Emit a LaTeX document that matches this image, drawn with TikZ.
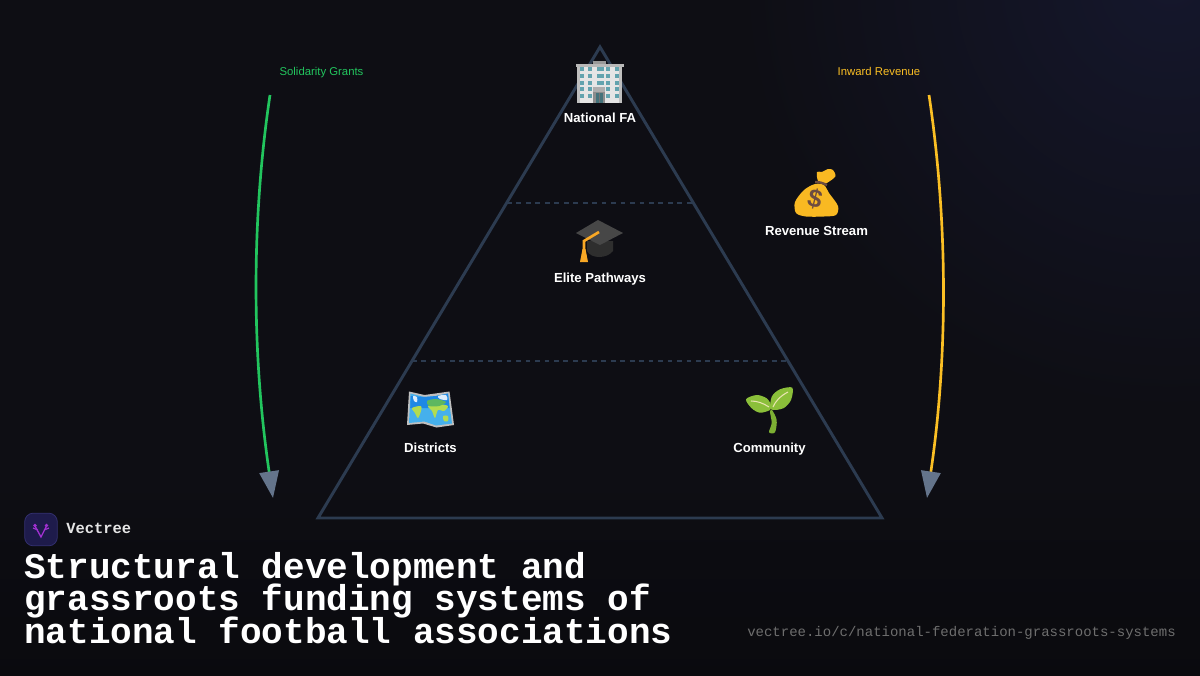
\documentclass[tikz,border=0pt]{standalone}
\usepackage{fontspec}
\setmainfont{Liberation Sans}
\setmonofont{Liberation Mono}
\usepackage{tikz}
\usetikzlibrary{arrows.meta,positioning}

\definecolor{bgdark}{HTML}{0E0E14}
\definecolor{bgblue}{HTML}{15172C}
\definecolor{bgedge}{HTML}{09090C}
\definecolor{tierline}{HTML}{2C3B50}
\definecolor{tipgrey}{HTML}{64748B}
\definecolor{grantgreen}{HTML}{22C55E}
\definecolor{revyellow}{HTML}{FBBF24}
\definecolor{urlgrey}{HTML}{6E6E6E}
\definecolor{logofill}{HTML}{1E1B4B}
\definecolor{logoedge}{HTML}{322F6E}
\definecolor{logomark}{HTML}{A030D0}
\definecolor{bagamber}{HTML}{F9B922}
\definecolor{bagbrown}{HTML}{6D4C41}
\definecolor{capgold}{HTML}{F9A825}
\definecolor{leafgreen}{HTML}{8BBF3A}
\definecolor{stemgreen}{HTML}{7CAF33}
\definecolor{leafvein}{HTML}{E8E4B0}
\definecolor{winteal}{HTML}{62A3AE}
\definecolor{seaupper}{HTML}{1E88E5}
\definecolor{sealower}{HTML}{45B0EC}
\definecolor{landlime}{HTML}{B2DC50}
\definecolor{landgreen}{HTML}{5DB760}

\tikzset{
  building/.pic={
    \fill[black!25] (-23,-16) rectangle (22,21);
    \fill[black!10] (-20,-16) rectangle (19,21);
    \fill[black!40] (-7,-21.5) rectangle (6,-18);
    \fill[black!28] (-24.5,-18.5) rectangle (23.5,-15.5);
    \foreach \wx/\ww in {-18/4.5,-10/4.5,0/7,8/4.5,17/4.5}
      \foreach \wy in {-13,-6,1,7,14}
        \fill[winteal] (\wx-\ww/2,\wy-2.1) rectangle (\wx+\ww/2,\wy+2.1);
    \fill[black!10] (-8,3.5) rectangle (6,21);
    \fill[black!45] (-7,5) rectangle (5,21);
    \fill[black!32] (-7,5) rectangle (5,10);
    \fill[winteal!70!black] (-4.5,11) rectangle (2.5,21);
    \draw[black!55,line width=0.7pt] (-1,11) -- (-1,21);
  },
  moneybag/.pic={
    \fill[bagamber] plot[smooth cycle] coordinates {(1,-24) (6,-24) (12,-27) (17,-26) (19.5,-20) (14,-15) (8,-12) (2,-15)};
    \fill[bagamber] plot[smooth cycle] coordinates {(-1,-12) (8,-11) (13,-3) (22,10) (20,19) (8,20.5) (-10,20.5) (-20,17) (-21,6) (-12,-6)};
    \draw[bagbrown,line width=1.7pt] (-1,-14) .. controls (2,-14.5) and (7,-13) .. (11,-11);
    \node[font=\bfseries\fontsize{19}{19}\selectfont,text=bagbrown,rotate=-14,inner sep=0pt] (dollar) at (-1,3) {\$};
  },
  gradcap/.pic={
    \fill[black!82] (-12,0) -- (-12,10) .. controls (-8,18) and (8,18) .. (14,10) -- (14,0) -- cycle;
    \fill[black!72] (-23,-8) -- (-1,-21) -- (24,-8) -- (1,4) -- cycle;
    \draw[capgold,line width=2pt] (0,-9) -- (-15,0) -- (-15,10);
    \fill[capgold] (-16.5,8) -- (-13.5,8) -- (-11,21) -- (-19,21) -- cycle;
  },
  worldmap/.pic={
    \fill[black!25] (-21,-17.5) -- (-5.5,-14) -- (19.5,-17.5) -- (24,16) -- (6.5,18.5) -- (-7,14.5) -- (-23,16) -- cycle;
    \fill[sealower] (-19.5,-15.5) -- (-5.5,-12) -- (6,-13) -- (18,-15.5) -- (22,14.5) -- (6,16.5) -- (-5.5,12.5) -- (-21,14) -- cycle;
    \fill[seaupper] (-19.3,-13) -- (-5.5,-12) -- (6,-13) -- (18,-15.5) -- (19.5,-1) -- (-19.8,-1) -- cycle;
    \fill[landlime] plot[smooth cycle] coordinates {(-18,-1) (-9,-3) (-9,2) (-12,9) (-15,4)};
    \fill[landlime] plot[smooth cycle] coordinates {(-2,-3) (8,-5) (18,-3) (14,2) (8,1) (5,9) (2,2)};
    \fill[landgreen] plot[smooth cycle] coordinates {(-3,-8) (6,-10) (16,-7) (9,-3) (-1,-3)};
    \fill[white!85!seaupper] plot[smooth cycle] coordinates {(-17,-13) (-13,-12) (-13,-7) (-16,-8)};
    \fill[white!85!seaupper] plot[smooth cycle] coordinates {(8,-13) (16,-14) (17,-9) (10,-10)};
    \fill[landlime] plot[smooth cycle] coordinates {(13,7) (18,7) (18,12) (14,12)};
  },
  sprout/.pic={
    \fill[stemgreen] plot[smooth cycle] coordinates {(1,1.7) (3,0) (7.7,10) (6,22.3) (0,22.3) (2.7,13)};
    \fill[leafgreen] plot[smooth cycle] coordinates {(-23,-10.7) (-12.3,-15) (-2.3,-11.7) (2,-5) (1,0) (-9,2.7) (-17.3,-1.7)};
    \fill[leafgreen] plot[smooth cycle] coordinates {(23.3,-22.3) (11,-20.7) (2.7,-13.3) (2,-0.7) (14.3,-1.7) (22,-10)};
    \draw[leafvein,line width=0.8pt] (-18,-9) .. controls (-12,-9) and (-6,-7) .. (0,-3);
    \draw[leafvein,line width=0.8pt] (19,-18) .. controls (11,-14) and (6,-8) .. (4,-3);
  }
}

\begin{document}
\begin{tikzpicture}[
  x=0.75pt,y=-0.75pt,
  iconlabel/.style={font=\bfseries\fontsize{9.85}{11}\selectfont,text=white,inner sep=0pt,anchor=base},
  flowlabel/.style={font=\fontsize{8.5}{10}\selectfont,inner sep=0pt,anchor=base},
  tierrule/.style={draw=tierline,line width=1.1pt,dash pattern=on 3.6pt off 3.5pt},
  flowarrow/.style={line width=2pt,-{Triangle[length=20pt,width=14.5pt,color=tipgrey]}}
]
\useasboundingbox (0,0) rectangle (1200,675);
\fill[bgdark] (-3,-3) rectangle (1203,678);
\begin{scope}
  \clip (0,0) rectangle (1200,675);
  \shade[inner color=bgblue,outer color=bgdark] (1170,-20) circle (430);
\end{scope}
\shade[top color=bgdark,bottom color=bgedge,draw=none,opacity=0.7] (-3,480) rectangle (1203,678);

% pyramid
\coordinate (apex) at (600,47);
\coordinate (baseleft) at (318,518);
\coordinate (baseright) at (882,518);
\draw[tierline,line width=2.2pt,line join=miter] (apex) -- (baseright) -- (baseleft) -- cycle;
\coordinate (upperleft) at (507,203);
\coordinate (upperright) at (693,203);
\coordinate (lowerleft) at (412,361);
\coordinate (lowerright) at (788,361);
\draw[tierrule] (upperleft) -- (upperright);
\draw[tierrule] (lowerleft) -- (lowerright);

% side flows
\coordinate (granttop) at (270,95);
\coordinate (grantend) at (273,498);
\coordinate (inwardtop) at (929,95);
\coordinate (inwardend) at (927,498);
\draw[flowarrow,grantgreen] (granttop) .. controls (251,222) and (252,356) .. (grantend);
\draw[flowarrow,revyellow] (inwardtop) .. controls (948,222) and (948,356) .. (inwardend);
\node[flowlabel,text=grantgreen] (grantlabel) at (321.5,75) {Solidarity Grants};
\node[flowlabel,text=revyellow] (inwardlabel) at (879,75) {Inward Revenue};

% tiers
\pic at (600,82) {building};
\node[iconlabel] (nationalfa) at (600,122) {National FA};
\pic at (816,196) {moneybag};
\node[iconlabel] (revenue) at (816.5,235) {Revenue Stream};
\pic at (599,241) {gradcap};
\node[iconlabel] (elite) at (600,282) {Elite Pathways};
\pic at (430,409) {worldmap};
\node[iconlabel] (districts) at (430.5,452) {Districts};
\pic at (769,410) {sprout};
\node[iconlabel] (community) at (769.5,452) {Community};

% brand and title
\node[draw=logoedge,fill=logofill,rounded corners=6.5pt,line width=0.6pt,
  minimum size=24.5pt,inner sep=0pt] (logo) at (41,529.5) {};
\draw[logomark,line width=1pt] (35,526) -- (41,537) -- (46.5,526);
\draw[logomark,line width=0.9pt] (33,528) -- (38,530) (49,528) -- (44,530);
\fill[logomark] (35,525.5) circle (1.8) (46.5,525.5) circle (1.8);
\node[font=\ttfamily\bfseries\fontsize{11.6}{14}\selectfont,text=black!10,inner sep=0pt,anchor=west] (brand) at (66,528.5) {Vectree};
\node[font=\ttfamily\bfseries\fontsize{27}{24.3}\selectfont\setlength{\lineskiplimit}{-20pt},text=white,inner sep=0pt,anchor=north west,align=left] (title) at (24,552)
  {Structural development and\\grassroots funding systems of\\national football associations};
\node[font=\ttfamily\fontsize{10.5}{12}\selectfont,text=urlgrey,inner sep=0pt,anchor=east] (url) at (1176,632.5) {vectree.io/c/national-federation-grassroots-systems};
\end{tikzpicture}
\end{document}
